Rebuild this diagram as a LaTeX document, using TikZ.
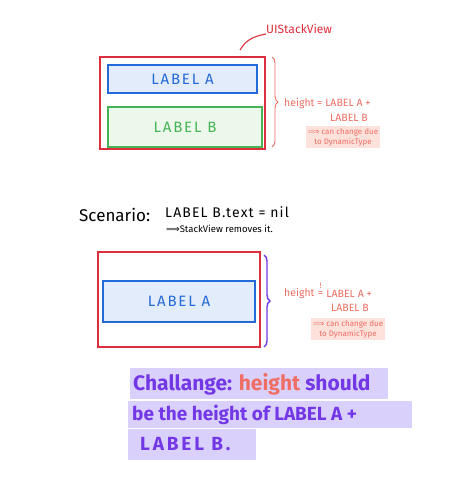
\documentclass[tikz,border=0pt]{standalone}
\usepackage{fontspec}
\setmainfont{Fira Sans}
\newfontfamily\symfont{DejaVu Sans}
\usetikzlibrary{decorations.pathreplacing}
\definecolor{boxred}{RGB}{222,45,60}
\definecolor{lblue}{RGB}{35,105,215}
\definecolor{lbluefill}{RGB}{226,236,250}
\definecolor{lgreen}{RGB}{70,180,85}
\definecolor{lgreenfill}{RGB}{236,248,236}
\definecolor{salmon}{RGB}{238,110,100}
\definecolor{salmonbg}{RGB}{253,226,220}
\definecolor{purp}{RGB}{115,55,230}
\definecolor{lav}{RGB}{218,208,252}
\begin{document}
\begin{tikzpicture}[x=1pt,y=-1pt,
  outerbox/.style={draw=boxred, line width=1.1pt, minimum width=#1, inner sep=0},
  labA/.style={draw=lblue, fill=lbluefill, line width=1.1pt, text=lblue, inner sep=0,
     font=\fontsize{15}{17}\selectfont\addfontfeatures{LetterSpace=12}},
  labB/.style={draw=lgreen, fill=lgreenfill, line width=1.1pt, text=lgreen, inner sep=0,
     font=\fontsize{15}{17}\selectfont\addfontfeatures{LetterSpace=12}},
  note/.style={text=salmon, anchor=west, inner sep=0, font=\fontsize{10.5}{12}\selectfont},
  small/.style={fill=salmonbg, text=salmon, inner sep=2pt, align=center,
     font=\fontsize{8}{10}\selectfont},
  hl/.style={fill=lav, inner sep=0, anchor=north west},
  chal/.style={text=purp, anchor=west, inner sep=0, font=\bfseries\fontsize{19}{21}\selectfont},
  brc/.style={decorate, decoration={brace, amplitude=6pt}}
]
\useasboundingbox (0,0) rectangle (474,478);
\fill[white] (0,0) rectangle (474,478);

% ---------- first stack view ----------
\node[outerbox=165pt, minimum height=92pt] (sv1) at (182.5,103) {};
\node[labA, minimum width=149pt, minimum height=28pt] (a1) at (182.5,79) {LABEL A};
\node[labB, minimum width=154pt, minimum height=40pt] (b1) at (185,127) {LABEL B};
\node[text=boxred, anchor=west, inner sep=0, font=\fontsize{12}{14}\selectfont] (uisv) at (266,29) {UIStackView};
\coordinate (c1) at (240,50);
\draw[boxred, line width=1.1pt] (c1) .. controls (245,42) and (250,37) .. (uisv.south west);
\coordinate (br1t) at (272,57);
\coordinate (br1b) at (272,147);
\draw[brc, salmon, line width=0.9pt] (br1t) -- (br1b);
\node[note] (h1) at (284,104) {height = LABEL A +};
\node[note] (h1b) at (330,118) {LABEL B};
\node[small] (d1) at (343,137) {{\symfont ⟹} can change due\\to DynamicType};

% ---------- scenario ----------
\node[anchor=west, inner sep=0, font=\fontsize{17}{19}\selectfont] (scen) at (79,215) {Scenario:};
\node[anchor=west, inner sep=0, font=\fontsize{14}{16}\selectfont\addfontfeatures{LetterSpace=8}] (scentext) at (165,212) {LABEL B.text = nil};
\node[anchor=west, inner sep=0, font=\fontsize{9.5}{11}\selectfont] (scenres) at (166,229) {{\symfont ⟹}StackView removes it.};

% ---------- second stack view ----------
\node[outerbox=162pt, minimum height=95pt] (sv2) at (179,299.5) {};
\node[labA, minimum width=152pt, minimum height=41pt] (a2) at (179,301.5) {LABEL A};
\coordinate (br2t) at (264,255);
\coordinate (br2b) at (264,347);
\draw[brc, purp, line width=1.4pt] (br2t) -- (br2b);
\node[note] (h2) at (284,294) {height};
\node[note, anchor=west] (eq2) at ([xshift=3pt]h2.east) {=};
\node[text=salmon, inner sep=0, anchor=south, font=\fontsize{8}{9}\selectfont] (ex2) at ([yshift=3pt]eq2.north) {!};
\node[note, anchor=west] (h2r) at ([xshift=3pt]eq2.east) {LABEL A +};
\node[note] (h2b) at (331,308) {LABEL B};
\node[small] (d2) at (348,329) {{\symfont ⟹} can change due\\to DynamicType};

% ---------- challenge ----------
\node[hl, minimum width=258pt, minimum height=31pt] (hl1) at (130,368) {};
\node[hl, minimum width=284pt, minimum height=27pt] (hl2) at (128,401) {};
\node[hl, minimum width=128pt, minimum height=31pt] (hl3) at (128,429) {};
\node[chal, font=\bfseries\fontsize{21}{23}\selectfont] (ch1) at (133,384) {Challange: \textcolor{salmon}{height} should};
\node[chal] (ch2) at (132,415) {be the height of LABEL A +};
\node[chal, font=\bfseries\fontsize{19}{21}\selectfont\addfontfeatures{LetterSpace=15}] (ch3) at (140,444) {LABEL B.};
\end{tikzpicture}
\end{document}
